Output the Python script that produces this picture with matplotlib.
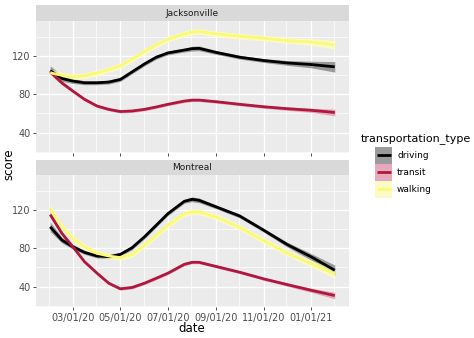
import matplotlib
matplotlib.use("Agg")
import matplotlib.pyplot as plt
import matplotlib.dates as mdates
from matplotlib.patches import Rectangle
import pandas as pd
import numpy as np

# ---------------- data ----------------
dates = ["2020-02-01", "2020-02-16", "2020-03-01", "2020-03-16", "2020-04-01",
         "2020-04-16", "2020-05-01", "2020-05-16", "2020-06-01", "2020-06-16",
         "2020-07-01", "2020-07-22", "2020-08-01", "2020-08-10", "2020-09-01",
         "2020-10-01", "2020-11-01", "2020-12-01", "2021-01-01", "2021-01-31"]

cities = ["Jacksonville", "Montreal"]
types = ["driving", "transit", "walking"]

jax_driving = [105, 96.7, 94, 92.2, 92.2, 92.9, 95.7, 103.6, 112, 119,
               123.5, 126.5, 128, 128.3, 124, 119, 115.5, 113, 111.3, 108.9]
jax_walking = [102.6, 100, 98.5, 99.5, 102.5, 106, 110, 117, 125, 132,
               138, 143.5, 145.4, 146, 143.5, 141, 139, 136.5, 135, 132]
jax_transit = [103.6, 92, 83.5, 74.8, 67.8, 64.3, 62, 62.6, 64.3, 66.8,
               69.6, 73, 74, 74, 72.3, 69.6, 67, 65, 63.3, 61]

mtl_driving = [102.6, 88.7, 81.7, 75.8, 72, 71.3, 73.7, 80.7, 92.2, 104.3,
               116.5, 129.4, 131.5, 130.4, 123.5, 114, 99, 84, 71, 57]
mtl_walking = [121.7, 102.6, 90.4, 81.7, 74.8, 72, 70.3, 73.7, 83.5, 94,
               104.3, 116.5, 118.3, 118.3, 113, 102, 88, 75, 64, 53]
mtl_transit = [115.5, 95.7, 81.7, 66, 54, 43.5, 37.6, 39, 43.5, 48.7,
               54, 63.3, 65.4, 65.4, 61, 55, 48, 42, 36, 30.5]

# half-widths of the confidence ribbons
band_driving = [5, 3, 2.5, 2, 2, 2, 2, 2, 2, 2, 2, 2, 2.5, 2.5, 2, 2, 2, 2.5, 3.5, 5.5]
band_transit = [3, 2, 1.5, 1.5, 1.5, 1.5, 1.5, 1.5, 1.5, 1.5, 1.5, 1.5, 1.5, 1.5, 1.5, 1.5, 1.5, 1.8, 2.2, 3.5]
band_walking = [4, 3, 3, 3, 3, 3, 3, 3, 3, 3, 3, 3, 3, 3, 3, 3, 3, 3, 3.5, 4.5]

x_ticks = ["2020-03-01", "2020-05-01", "2020-07-01", "2020-09-01", "2020-11-01", "2021-01-01"]
x_minor = ["2020-01-31", "2020-03-31", "2020-05-31", "2020-07-31", "2020-09-30", "2020-11-30", "2021-01-30"]
y_ticks = [40, 80, 120]
y_minor = [20, 60, 100, 140]

# ---------------- styling ----------------
line_colors = {"driving": "#000000", "transit": "#B0173F", "walking": "#FAFA78"}
fill_colors = {"driving": "#555555", "transit": "#D9547A", "walking": "#FFFFB8"}
fill_alpha = {"driving": 0.55, "transit": 0.45, "walking": 0.75}
LW = 2.0

series = {
    "Jacksonville": {"driving": jax_driving, "transit": jax_transit, "walking": jax_walking},
    "Montreal": {"driving": mtl_driving, "transit": mtl_transit, "walking": mtl_walking},
}
bands = {"driving": band_driving, "transit": band_transit, "walking": band_walking}

xd = pd.to_datetime(dates)
W, H = 474, 338
fig = plt.figure(figsize=(W / 100, H / 100), dpi=100)

def fx(px):
    return px / W

def fy(py):
    return 1 - py / H

panel_left, panel_right = 36, 349
panels = [("Jacksonville", 21, 153, 5), ("Montreal", 175, 307, 160)]

x0 = xd[0]
x1 = xd[-1]
span = x1 - x0
xlim = (x0 - span * 0.05, x1 + span * 0.05)
ylim = (18.5, 157)

axes = []
for city, top, bot, strip_top in panels:
    ax = fig.add_axes([fx(panel_left), fy(bot), fx(panel_right - panel_left), (bot - top) / H])
    ax.set_facecolor("#EBEBEB")
    for s in ax.spines.values():
        s.set_visible(False)
    ax.set_xlim(xlim)
    ax.set_ylim(ylim)
    ax.set_xticks(pd.to_datetime(x_ticks))
    ax.set_xticks(pd.to_datetime(x_minor), minor=True)
    ax.set_yticks(y_ticks)
    ax.set_yticks(y_minor, minor=True)
    ax.grid(True, which="major", color="white", linewidth=1.0)
    ax.grid(True, which="minor", color="white", linewidth=0.5)
    ax.set_axisbelow(True)
    ax.tick_params(which="major", length=2.5, width=0.6, color="#333333",
                   labelsize=7, labelcolor="#4D4D4D", pad=1.5)
    ax.tick_params(which="minor", length=0)
    ax.xaxis.set_major_formatter(mdates.DateFormatter("%m/%d/%y"))
    for t in types:
        vals = np.array(series[city][t])
        bw = np.array(bands[t])
        ax.fill_between(xd, vals - bw, vals + bw, color=fill_colors[t],
                        alpha=fill_alpha[t], linewidth=0)
    for t in types:
        ax.plot(xd, series[city][t], color=line_colors[t], linewidth=LW,
                solid_capstyle="butt", solid_joinstyle="round")
    # strip
    sax = fig.add_axes([fx(panel_left), fy(top), fx(panel_right - panel_left), (top - strip_top) / H])
    sax.set_facecolor("#D9D9D9")
    sax.set_xticks([])
    sax.set_yticks([])
    for s in sax.spines.values():
        s.set_visible(False)
    sax.text(0.5, 0.5, city, ha="center", va="center", fontsize=6.5, color="#1A1A1A",
             transform=sax.transAxes)
    axes.append(ax)

axes[0].tick_params(axis="x", which="major", labelbottom=False)

fig.text(fx(9), fy(164), "score", rotation=90, ha="center", va="center", fontsize=8.5)
fig.text(fx(192), fy(328), "date", ha="center", va="center", fontsize=8.5)

# legend drawn in pixel coordinates
lax = fig.add_axes([fx(355), fy(200), fx(474 - 355), (200 - 125) / H])
lax.set_xlim(355, 474)
lax.set_ylim(200, 125)
lax.axis("off")
lax.text(361, 139, "transportation_type", fontsize=8, ha="left", va="center", color="black")
row_tops = [147, 164, 181]
for t, rt in zip(types, row_tops):
    lax.add_patch(Rectangle((375, rt), 17, 16.5, facecolor="#F2F2F2", edgecolor="none"))
    lax.add_patch(Rectangle((375, rt), 17, 16.5, facecolor=fill_colors[t],
                            alpha=fill_alpha[t], edgecolor="none"))
    lax.plot([376.5, 390.5], [rt + 8.25, rt + 8.25], color=line_colors[t], linewidth=LW,
             solid_capstyle="butt")
    lax.text(397, rt + 8.25, t, fontsize=6.5, ha="left", va="center", color="black")

fig.savefig("out.png", dpi=100)
